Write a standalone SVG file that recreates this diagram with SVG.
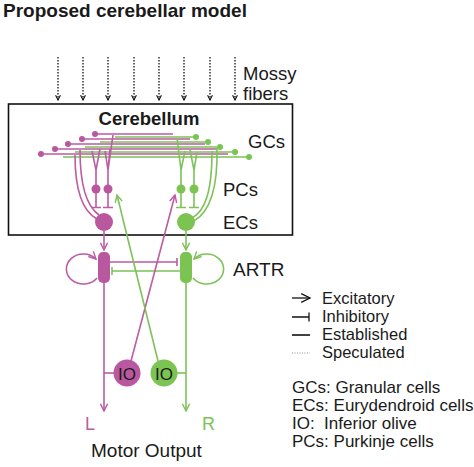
<svg xmlns="http://www.w3.org/2000/svg" width="474" height="467" viewBox="0 0 474 467">
<defs>
<style>
.t{font-family:"Liberation Sans",Arial,sans-serif;fill:#1a1a1a}
.b{font-weight:bold}
.m{stroke:#bb5ca4;fill:none;stroke-width:1.6}
.g{stroke:#7dc258;fill:none;stroke-width:1.6}
.mf{fill:#b9579f}
.gf{fill:#7cc452}
.mossy{stroke:#111;stroke-width:1.3;stroke-dasharray:1.4 1.6;fill:none}
</style>
<marker id="ak" viewBox="0 0 10 10" refX="9" refY="5" markerWidth="6" markerHeight="6" orient="auto" markerUnits="userSpaceOnUse"><path d="M1,1 L9,5 L1,9" fill="none" stroke="#111" stroke-width="1.8"/></marker>
<marker id="am" viewBox="0 0 10 10" refX="9" refY="5" markerWidth="9" markerHeight="9" orient="auto" markerUnits="userSpaceOnUse"><path d="M1,1 L9,5 L1,9" fill="none" stroke="#bb5ca4" stroke-width="1.6"/></marker>
<marker id="ag" viewBox="0 0 10 10" refX="9" refY="5" markerWidth="9" markerHeight="9" orient="auto" markerUnits="userSpaceOnUse"><path d="M1,1 L9,5 L1,9" fill="none" stroke="#7dc258" stroke-width="1.6"/></marker>
<marker id="al" viewBox="0 0 10 10" refX="9" refY="5" markerWidth="11" markerHeight="11" orient="auto" markerUnits="userSpaceOnUse"><path d="M1,1 L9,5 L1,9" fill="none" stroke="#111" stroke-width="1.2"/></marker>
</defs>
<rect width="474" height="467" fill="#fff"/>
<text class="t b" x="3" y="17" font-size="19">Proposed cerebellar model</text>

<g id="mossy-fibers">
<path class="mossy" d="M58,57V100" marker-end="url(#ak)"/>
<path class="mossy" d="M83,57V100" marker-end="url(#ak)"/>
<path class="mossy" d="M108,57V100" marker-end="url(#ak)"/>
<path class="mossy" d="M134,57V100" marker-end="url(#ak)"/>
<path class="mossy" d="M159,57V100" marker-end="url(#ak)"/>
<path class="mossy" d="M184,57V100" marker-end="url(#ak)"/>
<path class="mossy" d="M210,57V100" marker-end="url(#ak)"/>
<path class="mossy" d="M235,57V100" marker-end="url(#ak)"/>
<text class="t" x="243" y="80" font-size="18.5">Mossy</text>
<text class="t" x="243" y="100" font-size="18.5">fibers</text>
</g>

<g id="cerebellum">
<rect x="8.5" y="104" width="284" height="131" fill="none" stroke="#111" stroke-width="1.6"/>
<text class="t b" x="149" y="125" font-size="18.5" text-anchor="middle">Cerebellum</text>
</g>

<g id="GCs">
<g class="g" stroke-width="2">
<path d="M115,137H196M100,142H208M85,147H220M75,152H235M63,157H249"/>
</g>
<g class="m" stroke-width="2">
<path d="M95,134H173M82,139H190M68,144H205M55,149H217M41,154H228"/>
</g>
<g class="mf"><circle cx="95" cy="134" r="3"/><circle cx="82" cy="139" r="3"/><circle cx="68" cy="144" r="3"/><circle cx="55" cy="149" r="3"/><circle cx="41" cy="154" r="3"/></g>
<g class="gf"><circle cx="196" cy="137" r="3"/><circle cx="208" cy="142" r="3"/><circle cx="220" cy="147" r="3"/><circle cx="235" cy="152" r="3"/><circle cx="249" cy="157" r="3"/></g>
<text class="t" x="248" y="148" font-size="18.5">GCs</text>
</g>

<g id="PCs">
<g class="m" stroke-width="1.5">
<path d="M96,185V170L92,151M96,170L100,149"/>
<path d="M108,185V170L105,151M108,170L110,149M108,170L113,135"/>
<path d="M96,193V207M91,207.5H101M108,193V207M103,207.5H113"/>
</g>
<g class="g" stroke-width="1.5">
<path d="M181,185V170L177,138M181,170L185,151"/>
<path d="M194,185V170L190,150M194,170L197,152"/>
<path d="M181,193V207M176,207.5H186M194,193V207M189,207.5H199"/>
</g>
<circle class="mf" cx="96" cy="189" r="4.5"/>
<circle class="mf" cx="108" cy="189" r="4.5"/>
<circle class="gf" cx="181" cy="189" r="4.5"/>
<circle class="gf" cx="194" cy="189" r="4.5"/>
<text class="t" x="223" y="196" font-size="18.5">PCs</text>
</g>

<g id="ECs">
<path class="m" stroke-width="1.4" d="M75,155C75,195 84,212 97,219M80,150C80,192 89,208 99,215"/>
<path class="g" stroke-width="1.4" d="M212,151C212,192 205,211 192,218M217,148C218,194 208,213 194,221"/>
<circle class="mf" cx="104" cy="222" r="9"/>
<circle class="gf" cx="186" cy="222" r="9"/>
<text class="t" x="223" y="229" font-size="18.5">ECs</text>
</g>

<g id="connectors">
<path class="m" d="M104,231V250" marker-end="url(#am)"/>
<path class="g" d="M186,231V250" marker-end="url(#ag)"/>
<path class="m" d="M97,278A17,15 0 1 1 96,259" marker-end="url(#am)"/>
<path class="g" d="M193,278A17,15 0 1 0 194,259" marker-end="url(#ag)"/>
<path class="m" d="M110,262H177M177,258V266"/>
<path class="g" d="M180,271H112M112,267V275"/>
<path class="m" d="M104,283V411" marker-end="url(#am)"/>
<path class="g" d="M186,283V411" marker-end="url(#ag)"/>
<path class="m" d="M104,373H114"/>
<path class="g" d="M177,373H186"/>
<path class="m" d="M131,361L175,195" marker-end="url(#am)"/>
<path class="g" d="M158,361L117,195" marker-end="url(#ag)"/>
</g>

<g id="ARTR">
<rect class="mf" x="98" y="252" width="12" height="31" rx="5"/>
<rect class="gf" x="180" y="252" width="12" height="31" rx="5"/>
<text class="t" x="233" y="276" font-size="19">ARTR</text>
</g>

<g id="IO">
<circle class="mf" cx="127" cy="373" r="13.5"/>
<text class="t" x="127" y="379.5" font-size="17" text-anchor="middle">IO</text>
<circle class="gf" cx="164" cy="373" r="13.5"/>
<text class="t" x="164" y="379.5" font-size="17" text-anchor="middle">IO</text>
</g>

<g id="outputs">
<text class="t" x="85" y="430" font-size="18" style="fill:#bb5ca4">L</text>
<text class="t" x="202" y="430" font-size="18" style="fill:#7dc258">R</text>
<text class="t" x="91" y="457" font-size="19">Motor Output</text>
</g>

<g id="legend">
<path d="M292,298H310" stroke="#111" stroke-width="1.3" marker-end="url(#al)"/>
<path d="M292,317H309M309,312.5V321.5" stroke="#111" stroke-width="1.3" fill="none"/>
<path d="M292,335H310" stroke="#111" stroke-width="1.6"/>
<path d="M292,353H310" stroke="#888" stroke-width="1" stroke-dasharray="1 1.5"/>
<text class="t" x="322" y="304" font-size="16.5">Excitatory</text>
<text class="t" x="322" y="322" font-size="16.5">Inhibitory</text>
<text class="t" x="322" y="340" font-size="16.5">Established</text>
<text class="t" x="322" y="358" font-size="16.5">Speculated</text>
<text class="t" x="292" y="393" font-size="17">GCs: Granular cells</text>
<text class="t" x="292" y="411" font-size="17">ECs: Eurydendroid cells</text>
<text class="t" x="292" y="429" font-size="17" xml:space="preserve">IO:  Inferior olive</text>
<text class="t" x="292" y="447" font-size="17">PCs: Purkinje cells</text>
</g>
</svg>
